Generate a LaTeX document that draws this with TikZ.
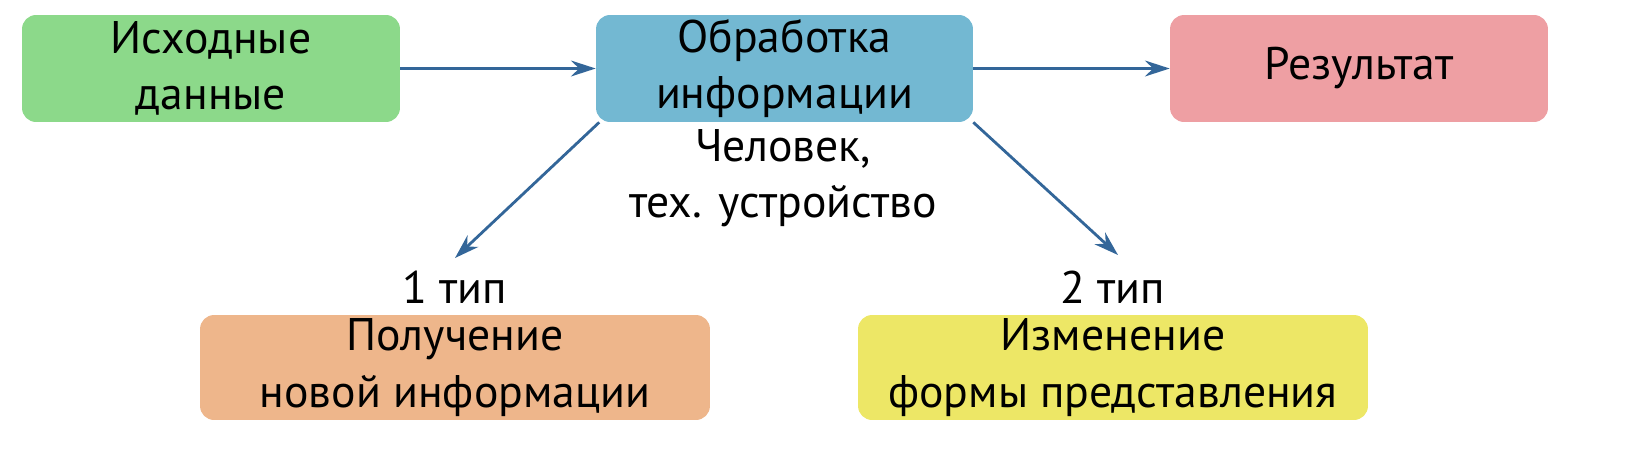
\documentclass[tikz,border=0pt]{standalone}
\usepackage{fontspec}
\setmainfont{PT Sans}
\usetikzlibrary{arrows.meta}
\definecolor{grb}{HTML}{8CD98A}
\definecolor{blb}{HTML}{73B8D2}
\definecolor{rdb}{HTML}{EE9FA3}
\definecolor{orb}{HTML}{EEB68B}
\definecolor{ylb}{HTML}{EDE766}
\definecolor{arr}{HTML}{336699}
\tikzset{
  box/.style={rounded corners=8pt, inner sep=0pt, align=center,
    font=\fontsize{26}{32}\selectfont},
  lbl/.style={align=center, font=\fontsize{26}{32}\selectfont},
  link/.style={draw=arr, line width=1.6pt, -{Stealth[length=14pt,width=9pt]}}
}
\begin{document}
\begin{tikzpicture}[x=0.02cm,y=-0.02cm]
  \useasboundingbox (0,0) rectangle (1650,460);
  \clip (0,0) rectangle (1650,460);
  \node[box, fill=grb, minimum width=7.56cm, minimum height=2.14cm] (src) at (211,68.5) {Исходные\\данные};
  \node[box, fill=blb, minimum width=7.54cm, minimum height=2.14cm] (proc) at (784.5,68.5) {Обработка\\информации};
  \node[box, fill=rdb, minimum width=7.56cm, minimum height=2.14cm] (res) at (1359,68.5) {Результат};
  \node[box, fill=orb, minimum width=10.2cm, minimum height=2.1cm] (new) at (455,367.5) {Получение\\новой информации};
  \node[box, fill=ylb, minimum width=10.2cm, minimum height=2.1cm] (form) at (1113,367.5) {Изменение\\формы представления};
  \node[lbl] (who) at (783,178) {Человек,\\тех. устройство};
  \node[lbl] (t1) at (455,287) {1 тип};
  \node[lbl] (t2) at (1113,287) {2 тип};
  \coordinate (a1) at (455,258);
  \coordinate (a2) at (1118,255);
  \draw[link] (src.east) -- (proc.west);
  \draw[link] (proc.east) -- (res.west);
  \draw[link] ([xshift=2pt]proc.south west) -- (a1);
  \draw[link] (proc.south east) -- (a2);
\end{tikzpicture}
\end{document}
